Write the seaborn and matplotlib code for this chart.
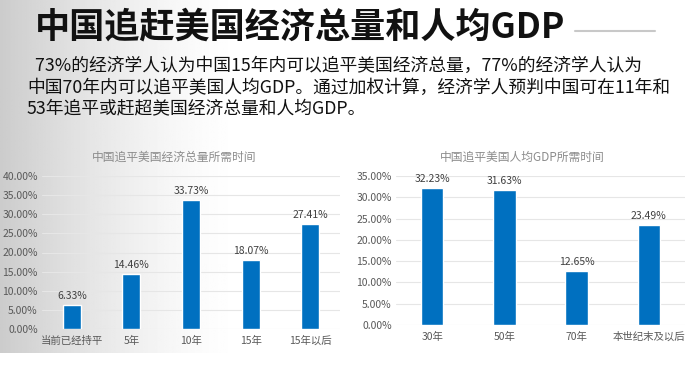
import numpy as np
import pandas as pd
import matplotlib
matplotlib.use("Agg")
import matplotlib.pyplot as plt
import seaborn as sns
from matplotlib.ticker import FuncFormatter

# data
total_labels = ["当前已经持平", "5年", "10年", "15年", "15年以后"]
total_values = [6.33, 14.46, 33.73, 18.07, 27.41]
per_capita_labels = ["30年", "50年", "70年", "本世纪末及以后"]
per_capita_values = [32.23, 31.63, 12.65, 23.49]

title = "中国追赶美国经济总量和人均GDP"
body_lines = [
    "  73%的经济学人认为中国15年内可以追平美国经济总量，77%的经济学人认为",
    "中国70年内可以追平美国人均GDP。通过加权计算，经济学人预判中国可在11年和",
    "53年追平或赶超美国经济总量和人均GDP。",
]

sns.set_style("white")
plt.rcParams["font.family"] = ["Noto Sans CJK SC", "DejaVu Sans"]

BLUE = "#0070C0"
fig = plt.figure(figsize=(7, 3.87), dpi=100)

# soft grey background on the left, fading to white
bg = fig.add_axes([0, 0, 1, 1], zorder=-10)
xs = np.linspace(0, 1, 400)
grad = np.clip(1 - xs / 0.35, 0, 1) ** 1.5
img = np.tile(0.80 + 0.20 * (1 - grad), (2, 1))
bg.imshow(img, cmap="gray", vmin=0, vmax=1, aspect="auto",
          extent=[0, 1, 1 - 353 / 387, 1])
bg.set_xlim(0, 1)
bg.set_ylim(0, 1)
bg.axis("off")

fig.text(35 / 700, 1 - 27 / 387, title, fontsize=25.3, fontweight="bold",
         va="center", ha="left", color="#111111")
fig.add_artist(plt.Line2D([575 / 700, 655 / 700], [1 - 31 / 387] * 2,
                          color="#c8c8c8", lw=1.5))
for i, line in enumerate(body_lines):
    fig.text(27 / 700, 1 - (66 + i * 21.5) / 387, line, fontsize=12.8,
             va="center", ha="left", color="#111111")


def draw(ax, labels, values, ymax, chart_title, width, title_x):
    df = pd.DataFrame({"cat": labels, "val": values})
    sns.barplot(data=df, x="cat", y="val", color=BLUE, saturation=1,
                width=width, ax=ax, zorder=3)
    ax.set_ylim(0, ymax)
    ax.set_yticks(np.arange(0, ymax + 0.1, 5))
    ax.yaxis.set_major_formatter(FuncFormatter(lambda v, p: f"{v:.2f}%"))
    ax.grid(axis="y", color="#e6e6e6", lw=0.8, zorder=0)
    ax.set_xlabel("")
    ax.set_ylabel("")
    ax.set_facecolor("none")
    for s in ax.spines.values():
        s.set_visible(False)
    ax.tick_params(axis="both", length=0, labelsize=7.5, colors="#595959",
                   pad=3)
    ax.tick_params(axis="x", pad=5)
    for c in ax.containers:
        ax.bar_label(c, labels=[f"{v:.2f}%" for v in values], fontsize=7.5,
                     color="#404040", padding=3)
    fig.text(title_x / 700, 1 - 157 / 387, chart_title, fontsize=8.5,
             color="#8c8c8c", ha="center", va="center")


ax1 = fig.add_axes([42 / 700, 1 - 329 / 387, 298 / 700, 153 / 387])
draw(ax1, total_labels, total_values, 40, "中国追平美国经济总量所需时间",
     0.3, 174)

ax2 = fig.add_axes([396 / 700, 1 - 325 / 387, 289 / 700, 149 / 387])
draw(ax2, per_capita_labels, per_capita_values, 35,
     "中国追平美国人均GDP所需时间", 0.31, 522)

fig.savefig("out.png", dpi=100)
